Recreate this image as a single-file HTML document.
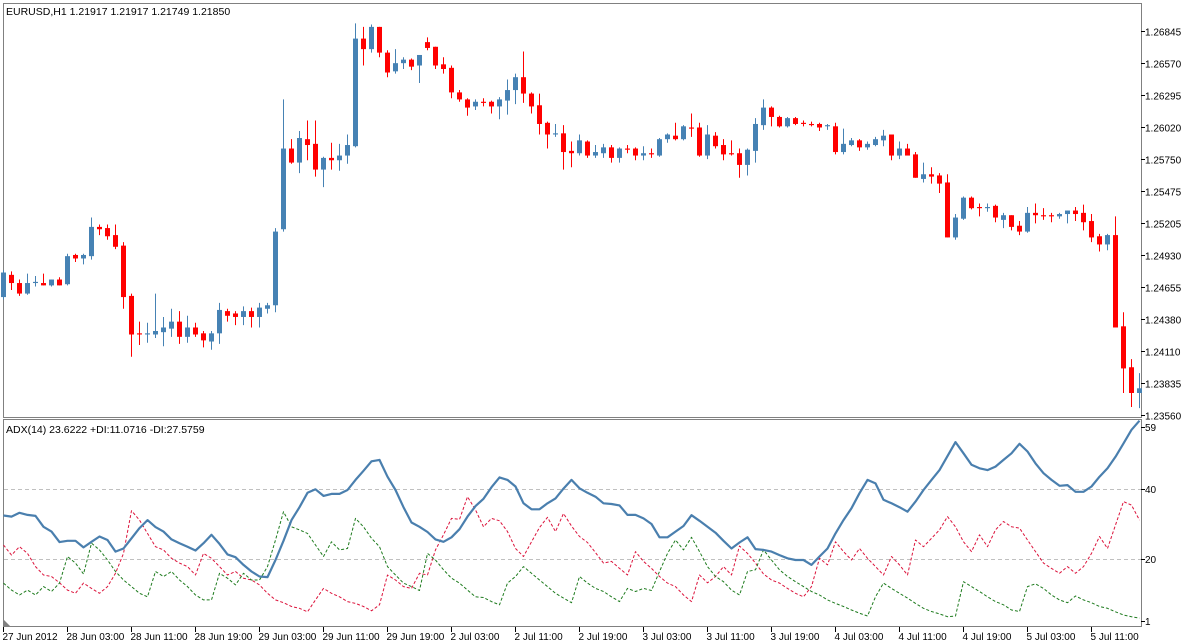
<!DOCTYPE html>
<html><head><meta charset="utf-8"><style>
body{margin:0;background:#fff;width:1183px;height:644px;overflow:hidden}
svg{display:block;font-family:"Liberation Sans",sans-serif;font-size:10.5px}
.ax{font-size:10px}
</style></head><body>
<svg id="c" width="1183" height="644" xmlns="http://www.w3.org/2000/svg"></svg>
<script>
const opens=[1.2457,1.2476,1.2469,1.2460,1.2469,1.2469,1.2467,1.2472,1.2468,1.2493,1.2490,1.2492,1.2517,1.2516,1.2510,1.2501,1.2458,1.2426,1.2425,1.2425,1.2427,1.2430,1.2436,1.2423,1.2431,1.2426,1.2419,1.2426,1.2445,1.2443,1.2440,1.2445,1.2440,1.2447,1.2450,1.2515,1.2584,1.2572,1.2592,1.2588,1.2566,1.2576,1.2574,1.2578,1.2586,1.2678,1.2669,1.2688,1.2666,1.2650,1.2657,1.2660,1.2655,1.2675,1.2671,1.2656,1.2653,1.2632,1.2626,1.2620,1.2624,1.2624,1.2620,1.2625,1.2634,1.2645,1.2631,1.2621,1.2606,1.2596,1.2597,1.2582,1.2580,1.2590,1.2578,1.2580,1.2585,1.2576,1.2584,1.2584,1.2578,1.2580,1.2578,1.2592,1.2595,1.2592,1.2602,1.2602,1.2578,1.2595,1.2587,1.2580,1.2580,1.2570,1.2582,1.2604,1.2619,1.2611,1.2603,1.2610,1.2606,1.2605,1.2605,1.2603,1.2603,1.2581,1.2587,1.2591,1.2585,1.2587,1.2591,1.2596,1.2578,1.2584,1.2579,1.2558,1.2562,1.2561,1.2555,1.2508,1.2524,1.2542,1.2534,1.2533,1.2535,1.2523,1.2527,1.2518,1.2513,1.2529,1.2527,1.2527,1.2526,1.2528,1.2531,1.2529,1.2522,1.2509,1.2502,1.2510,1.2432,1.2397,1.2375];
const highs=[1.2480,1.2479,1.2472,1.2477,1.2475,1.2477,1.2472,1.2474,1.2494,1.2494,1.2494,1.2525,1.2519,1.2519,1.2519,1.2504,1.2460,1.2436,1.2435,1.2460,1.2440,1.2447,1.2445,1.2441,1.2435,1.2428,1.2428,1.2452,1.2447,1.2445,1.2449,1.2448,1.2452,1.2452,1.2516,1.2626,1.2592,1.2599,1.2608,1.2608,1.2577,1.2589,1.2588,1.2596,1.2691,1.2688,1.2690,1.2688,1.2668,1.2669,1.2662,1.2661,1.2664,1.2679,1.2671,1.2662,1.2655,1.2634,1.2627,1.2626,1.2627,1.2625,1.2628,1.2643,1.2648,1.2667,1.2632,1.2631,1.2607,1.2605,1.2604,1.2590,1.2596,1.2591,1.2587,1.2588,1.2587,1.2585,1.2587,1.2585,1.2586,1.2584,1.2593,1.2597,1.2606,1.2604,1.2614,1.2606,1.2604,1.2598,1.2592,1.2591,1.2584,1.2584,1.2610,1.2626,1.2620,1.2612,1.2611,1.2611,1.2608,1.2607,1.2606,1.2605,1.2606,1.2601,1.2593,1.2592,1.2590,1.2594,1.2600,1.2596,1.2590,1.2588,1.2581,1.2572,1.2568,1.2563,1.2562,1.2528,1.2543,1.2543,1.2537,1.2537,1.2536,1.2529,1.2527,1.2522,1.2534,1.2537,1.2533,1.2529,1.2529,1.2531,1.2534,1.2536,1.2528,1.2511,1.2511,1.2526,1.2444,1.2404,1.2392];
const lows=[1.2455,1.2463,1.2458,1.2459,1.2466,1.2467,1.2466,1.2467,1.2467,1.2487,1.2485,1.2489,1.2510,1.2506,1.2498,1.2447,1.2406,1.2416,1.2418,1.2422,1.2415,1.2423,1.2417,1.2418,1.2423,1.2414,1.2412,1.2417,1.2436,1.2433,1.2433,1.2431,1.2431,1.2443,1.2444,1.2513,1.2571,1.2563,1.2574,1.2560,1.2551,1.2566,1.2565,1.2571,1.2585,1.2655,1.2666,1.2662,1.2645,1.2648,1.2652,1.2651,1.2640,1.2668,1.2652,1.2648,1.2627,1.2624,1.2612,1.2617,1.2620,1.2614,1.2609,1.2613,1.2622,1.2623,1.2614,1.2596,1.2584,1.2594,1.2566,1.2568,1.2578,1.2576,1.2576,1.2576,1.2572,1.2572,1.2580,1.2574,1.2574,1.2576,1.2577,1.2589,1.2591,1.2591,1.2594,1.2577,1.2575,1.2584,1.2574,1.2578,1.2559,1.2561,1.2572,1.2600,1.2603,1.2602,1.2602,1.2604,1.2603,1.2603,1.2599,1.2600,1.2579,1.2579,1.2586,1.2582,1.2583,1.2586,1.2586,1.2574,1.2575,1.2578,1.2559,1.2555,1.2554,1.2546,1.2508,1.2506,1.2523,1.2532,1.2526,1.2530,1.2521,1.2516,1.2514,1.2510,1.2512,1.2520,1.2523,1.2521,1.2524,1.2520,1.2522,1.2514,1.2504,1.2496,1.2497,1.2431,1.2375,1.2363,1.2362];
const closes=[1.2478,1.2469,1.2460,1.2469,1.2470,1.2467,1.2472,1.2467,1.2492,1.2490,1.2493,1.2517,1.2515,1.2509,1.2500,1.2457,1.2425,1.2425,1.2426,1.2428,1.2431,1.2436,1.2423,1.2431,1.2425,1.2420,1.2426,1.2446,1.2441,1.2440,1.2445,1.2440,1.2448,1.2450,1.2513,1.2584,1.2572,1.2593,1.2587,1.2566,1.2576,1.2574,1.2578,1.2587,1.2678,1.2669,1.2688,1.2666,1.2649,1.2657,1.2660,1.2654,1.2664,1.2670,1.2655,1.2652,1.2632,1.2626,1.2619,1.2624,1.2623,1.2620,1.2626,1.2634,1.2645,1.2631,1.2620,1.2605,1.2596,1.2597,1.2581,1.2580,1.2591,1.2578,1.2581,1.2585,1.2576,1.2584,1.2583,1.2578,1.2580,1.2579,1.2592,1.2596,1.2592,1.2603,1.2601,1.2578,1.2596,1.2586,1.2579,1.2579,1.2570,1.2583,1.2605,1.2619,1.2611,1.2603,1.2610,1.2605,1.2605,1.2604,1.2602,1.2604,1.2581,1.2588,1.2591,1.2585,1.2588,1.2592,1.2595,1.2578,1.2584,1.2578,1.2559,1.2562,1.2560,1.2554,1.2508,1.2525,1.2542,1.2533,1.2533,1.2534,1.2525,1.2527,1.2517,1.2513,1.2529,1.2527,1.2526,1.2526,1.2528,1.2531,1.2528,1.2521,1.2508,1.2502,1.2510,1.2431,1.2396,1.2375,1.2379];
const adx=[32.5,32.2,33.3,32.7,32.4,29.3,27.9,24.9,25.3,25.3,23.4,25.0,26.5,25.5,22.2,23.1,26.0,28.9,31.2,29.2,27.9,25.7,24.6,23.6,22.5,24.6,27.0,24.4,21.4,20.6,18.4,16.5,15.1,14.9,19.8,25.3,31.2,34.9,39.0,40.0,38.1,38.7,38.7,39.8,42.7,45.3,48.0,48.4,43.6,39.8,34.9,30.5,29.3,27.8,25.7,25.0,26.3,28.6,32.2,35.2,37.3,40.6,43.4,42.7,40.8,36.0,34.3,34.3,36.0,37.4,40.2,42.7,40.3,39.0,37.9,36.0,35.8,35.4,32.7,32.7,31.7,30.1,26.3,26.3,27.9,29.5,32.6,31.0,29.3,27.6,25.3,23.1,24.8,26.3,22.9,22.7,22.2,21.2,20.3,19.8,19.8,18.4,20.8,23.1,27.4,31.2,34.6,38.9,42.7,41.7,37.0,36.0,34.9,33.6,36.5,39.8,42.7,45.5,49.5,53.5,50.3,47.0,46.0,45.5,46.5,48.4,50.3,53.0,50.8,47.4,44.6,42.7,41.0,41.2,39.3,39.3,40.8,43.6,46.0,49.3,53.1,57.0,59.6];
const plusDI=[13.2,11.2,9.8,11.2,9.8,12.2,10.8,13.2,20.8,18.9,15.8,24.6,22.7,19.8,16.5,14.1,12.2,10.3,9.3,16.5,15.1,16.5,14.1,12.2,9.8,8.4,8.4,16.0,14.6,12.7,16.0,14.1,14.1,17.9,25.5,33.6,29.3,28.4,27.4,24.1,20.8,25.0,22.7,23.1,31.7,29.3,26.0,23.6,17.9,15.5,13.2,12.2,11.1,21.7,19.8,17.0,14.6,13.2,11.2,9.3,9.1,7.9,7.0,13.2,15.1,17.9,16.0,14.1,12.2,10.3,8.9,7.6,15.1,13.2,11.7,10.8,9.3,7.9,11.7,10.8,11.7,11.1,16.5,21.7,25.5,22.7,26.3,22.2,17.9,15.1,13.6,11.2,9.8,16.5,17.0,22.7,19.8,17.0,15.1,13.6,12.2,10.8,9.8,8.4,7.4,6.5,5.5,4.6,3.8,9.3,13.2,11.7,10.3,8.9,7.4,6.0,5.1,4.4,3.6,3.8,13.6,12.2,10.8,9.3,7.9,7.0,5.5,5.1,12.2,13.0,11.7,9.8,8.4,7.6,9.5,8.4,7.6,6.5,6.0,5.0,4.1,3.6,3.2];
const minusDI=[24.1,21.2,23.6,21.7,17.9,15.5,15.1,13.3,11.2,10.3,13.2,11.7,10.3,12.2,16.0,21.7,33.9,31.2,27.4,23.6,22.7,20.3,18.9,17.9,15.5,21.7,20.3,17.9,15.5,16.5,14.6,14.1,12.7,10.3,8.4,7.6,6.5,6.0,5.0,8.4,11.7,10.3,9.3,7.9,7.4,6.5,5.3,7.0,15.5,14.1,12.2,11.7,16.0,15.5,22.7,27.0,31.7,31.4,37.9,34.1,29.3,31.7,31.0,27.9,23.1,20.8,25.0,29.1,32.0,27.9,33.1,29.5,26.5,24.8,21.9,18.9,19.4,17.4,15.5,22.2,19.4,17.4,15.1,13.2,12.2,9.8,7.9,15.5,13.3,15.1,17.9,15.5,23.8,21.7,18.9,15.8,14.1,13.2,11.7,10.3,9.3,12.2,20.3,18.4,25.0,22.2,19.8,23.1,20.3,17.9,15.5,20.8,18.4,15.5,25.5,23.6,26.0,28.4,32.2,29.3,25.0,22.2,27.0,23.6,28.4,30.8,29.3,28.9,25.5,22.2,18.9,17.4,16.0,17.9,16.0,17.9,21.7,26.5,23.1,29.8,36.5,35.5,31.2];
const priceTicks=[1.26845,1.26570,1.26295,1.26020,1.25750,1.25475,1.25205,1.24930,1.24655,1.24380,1.24110,1.23835,1.23560];
const adxTicks=[59,40,20,1];
const adxGrid=[40,20];
const timeLabels=["27 Jun 2012","28 Jun 03:00","28 Jun 11:00","28 Jun 19:00","29 Jun 03:00","29 Jun 11:00","29 Jun 19:00","2 Jul 03:00","2 Jul 11:00","2 Jul 19:00","3 Jul 03:00","3 Jul 11:00","3 Jul 19:00","4 Jul 03:00","4 Jul 11:00","4 Jul 19:00","5 Jul 03:00","5 Jul 11:00"];
const timeLabelBars=[0,8,16,24,32,40,48,56,64,72,80,88,96,104,112,120,128,136];

const NS="http://www.w3.org/2000/svg";
const svg=document.getElementById('c');
function mk(t,a,p){const e=document.createElementNS(NS,t);for(const k in a)e.setAttribute(k,a[k]);(p||svg).appendChild(e);return e;}
const xB=i=>3+8*i;
const yP=p=>(1.2711-p)/0.0000855;
const yA=v=>489.3+(40-v)*3.5;
const L=3,R=1141;

let f=mk('rect',{x:L+0.5,y:3.5,width:R-L,height:414,fill:'none',stroke:'#808080'});


f=mk('rect',{x:L+0.5,y:419.5,width:R-L,height:207,fill:'none',stroke:'#808080'});



let t=mk('text',{x:6,y:15,fill:'#000'});t.textContent="EURUSD,H1  1.21917 1.21917 1.21749 1.21850";


t=mk('text',{x:6,y:433,fill:'#000'});t.textContent="ADX(14) 23.6222 +DI:11.0716 -DI:27.5759";



const pa=mk('g',{class:'ax'});


priceTicks.forEach(p=>{const y=Math.round(yP(p))+0.5;
 mk('line',{x1:R,x2:R+4,y1:y,y2:y,stroke:'#000'},pa);
 const tx=mk('text',{x:R+4,y:y+4,fill:'#000'},pa);tx.textContent=p.toFixed(5);
 
 });

const cg=mk('g',{});


for(let i=0;i<opens.length;i++){
 const x=xB(i),up=closes[i]>=opens[i],col=up?'#4682B4':'#FF0000';
 const g=mk('g',{},cg);
 
 
 mk('line',{x1:x+0.5,x2:x+0.5,y1:yP(highs[i]),y2:yP(lows[i]),stroke:col},g);
 const y1=yP(Math.max(opens[i],closes[i])),y2=yP(Math.min(opens[i],closes[i]));
 mk('rect',{x:x-2,y:y1,width:5,height:Math.max(1,y2-y1),fill:col},g);
}

adxGrid.forEach(v=>{const y=Math.round(yA(v))+0.5;
 const gl=mk('line',{x1:L+1,x2:R,y1:y,y2:y,stroke:'#c0c0c0','stroke-dasharray':'4,3'});
 
 });
adxTicks.forEach(v=>{let y=Math.round(yA(v));y=Math.min(621,Math.max(427,y));
 mk('line',{x1:R,x2:R+4,y1:y+0.5,y2:y+0.5,stroke:'#000'});
 const tx=mk('text',{x:R+4,y:y+4,fill:'#000',class:'ax'});tx.textContent=String(v);
 
 });

function series(arr,col,w,dash,name){
 const d=arr.map((v,i)=>(i?'L':'M')+(xB(i)+0.5)+','+yA(v).toFixed(1)).join(' ');
 const p=mk('path',{d:d,fill:'none',stroke:col,'stroke-width':w,'stroke-dasharray':dash||'none','stroke-linejoin':'round'});
 
 
}
series(minusDI,'#DC143C',1,'3,2','minus-di-line');
series(plusDI,'#1E7B1E',1,'3,2','plus-di-line');
series(adx,'#4a7fae',2.2,null,'adx-line');

const ta=mk('g',{class:'ax'});


timeLabels.forEach((s,k)=>{const x=xB(timeLabelBars[k])+0.5;
 mk('line',{x1:x,x2:x,y1:627,y2:632,stroke:'#000'},ta);
 const tx=mk('text',{x:x-1,y:640,fill:'#000'},ta);tx.textContent=s;
 
 });
mk('path',{d:'M4,620 L4,626 L10,626 Z',fill:'#808080'});
</script>
</body></html>
